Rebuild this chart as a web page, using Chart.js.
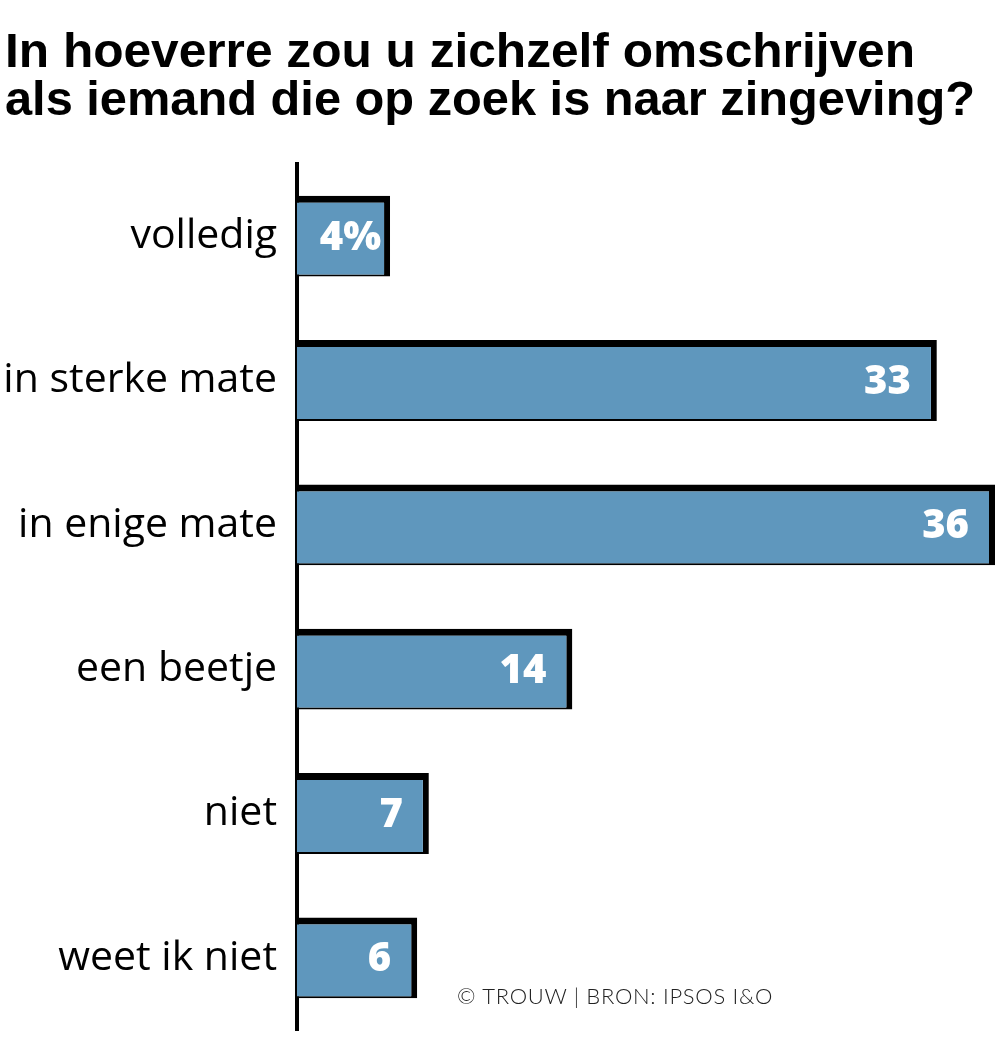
<!DOCTYPE html>
<html>
<head>
<meta charset="utf-8">
<script src="https://cdn.jsdelivr.net/npm/chart.js@4"></script>
<style>
  html, body { margin: 0; padding: 0; background: #fff; }
  body { width: 1000px; height: 1058px; position: relative; overflow: hidden; }
  .tline {
    position: absolute; left: 5px; white-space: nowrap;
    font-family: "Liberation Sans", Arial, sans-serif;
    font-weight: bold; font-size: 48px; line-height: 48px; color: #000;
    transform-origin: 0 0;
  }
  #wrap { position: absolute; left: 0; top: 150px; width: 1000px; height: 890px; }
  #credit {
    position: absolute; left: 457px; top: 982px; white-space: nowrap;
    font-family: Lato, "Open Sans", sans-serif; font-weight: 300;
    font-size: 22px; color: #222; letter-spacing: 0.7px;
  }
</style>
</head>
<body>
<div class="tline" id="t1" style="top:27px" data-w="910">In hoeverre zou u zichzelf omschrijven</div>
<div class="tline" id="t2" style="top:75px" data-w="970">als iemand die op zoek is naar zingeving?</div>
<div id="wrap"><canvas id="chart"></canvas></div>
<div id="credit">© TROUW | BRON: IPSOS I&amp;O</div>
<script>
// ---------- Data ----------
const CATEGORIES = ['volledig', 'in sterke mate', 'in enige mate', 'een beetje', 'niet', 'weet ik niet'];
// bar lengths as drawn (the hand-drawn 4% bar is a bit long)
const VALUES = [4.8, 33, 36, 14.2, 6.8, 6.2];
const VALUE_LABELS = ['4%', '33', '36', '14', '7', '6'];

// squeeze the title lines to the condensed width of the original
document.querySelectorAll('.tline').forEach(el => {
  const w = el.getBoundingClientRect().width;
  el.style.transform = 'scaleX(' + (parseFloat(el.dataset.w) / w) + ')';
});

// white numbers inside the bar ends
const valueLabels = {
  id: 'valueLabels',
  afterDatasetsDraw(chart) {
    const ctx = chart.ctx;
    const meta = chart.getDatasetMeta(0);
    ctx.save();
    ctx.fillStyle = '#fff';
    ctx.font = '800 40px "Open Sans", sans-serif';
    ctx.textAlign = 'right';
    ctx.textBaseline = 'middle';
    meta.data.forEach((bar, i) => {
      const w = bar.x - bar.base;
      const off = w < 110 ? 9 : 26;
      ctx.fillText(VALUE_LABELS[i], bar.x - off, bar.y + 2);
    });
    ctx.restore();
  }
};

new Chart(document.getElementById('chart'), {
  type: 'bar',
  data: {
    labels: CATEGORIES,
    datasets: [{
      data: VALUES,
      backgroundColor: '#5f97bd',
      borderColor: '#000',
      borderWidth: { top: 7, right: 6, bottom: 2, left: 0 },
      borderSkipped: false,
      barPercentage: 0.56,
      categoryPercentage: 1
    }]
  },
  options: {
    indexAxis: 'y',
    responsive: true,
    maintainAspectRatio: false,
    animation: false,
    layout: { padding: { top: 14, bottom: 10, right: 5, left: 0 } },
    plugins: { legend: { display: false }, tooltip: { enabled: false } },
    scales: {
      x: { display: false, min: 0, max: 36 },
      y: {
        afterFit: (s) => { s.width = 297; s.paddingTop = 0; s.paddingBottom = 0; },
        grid: { display: false, drawTicks: false },
        border: { display: true, color: '#000', width: 4 },
        ticks: {
          color: '#000',
          padding: 20,
          font: { family: '"Open Sans", sans-serif', size: 41 }
        }
      }
    }
  },
  plugins: [valueLabels]
});
</script>
</body>
</html>
